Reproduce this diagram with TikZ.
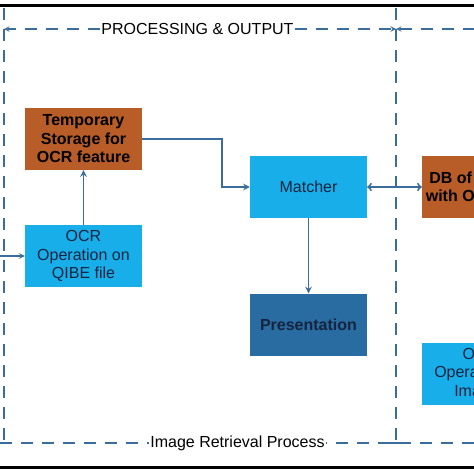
\documentclass[tikz,border=0pt]{standalone}
\usepackage{fontspec}
\setmainfont{Liberation Sans}
\usepackage{tikz}
\usetikzlibrary{arrows}
\usepackage{xcolor}
\definecolor{rust}{RGB}{184,92,40}
\definecolor{sky}{RGB}{24,174,234}
\definecolor{deepblue}{RGB}{40,108,162}
\definecolor{steel}{RGB}{58,108,156}
\definecolor{navy}{RGB}{22,36,62}

\tikzset{
  blockbox/.style={minimum width=117pt,minimum height=62pt,inner sep=0pt,
    align=center,font=\fontsize{16}{18.5}\selectfont},
  rustbox/.style={blockbox,fill=rust,text=black,font=\fontsize{16}{18.5}\selectfont\bfseries},
  skybox/.style={blockbox,fill=sky,text=navy},
  darkbox/.style={blockbox,fill=deepblue,text=navy,font=\fontsize{16}{18.5}\selectfont\bfseries},
  link/.style={draw=steel,line width=1.9pt},
  border/.style={draw=steel,line width=1.4pt,dash pattern=on 12pt off 9pt},
  caption/.style={font=\fontsize{16}{18}\selectfont,text=black,fill=white,inner xsep=1pt,inner ysep=0pt}
}

\begin{document}
\begin{tikzpicture}[x=1pt,y=-1pt,>=stealth]
        \useasboundingbox (0,0) rectangle (474,474);
        \clip (0,0) rectangle (474,474);
        % frame
        \draw[line width=3pt] (0,5) -- (474,5);
        \draw[line width=3pt] (0,467) -- (474,467);
        \draw[border] (4,8) -- (4,443);
        \draw[border] (396,8) -- (396,443);
        \draw[border] (0,443) -- (474,443);
        \draw[steel,line width=1.4pt] (0,443) -- (10,443) (390,443) -- (402,443);
        \node[caption] (retr) at (237.5,443) {Image Retrieval Process};
        % section header
        \node[caption,fill=none] (proc) at (197.5,29) {PROCESSING \& OUTPUT};
        \coordinate (lft) at (4,29);
        \coordinate (mid) at (396,29);
        \coordinate (rgt) at (474,29);
        \draw[border,->] (proc.west) -- (lft);
        \draw[border,->] (proc.east) -- (mid);
        \draw[border,<-] (mid) -- (rgt);
        % blocks
        \node[rustbox] (tmp) at (83.5,139) {Temporary\\Storage for\\OCR feature};
        \node[skybox] (ocr) at (83.5,256) {OCR\\Operation on\\QIBE file};
        \node[skybox] (match) at (308.5,187) {Matcher};
        \node[darkbox] (pres) at (308.5,324.5) {Presentation};
        \node[rustbox] (db) at (480.5,187) {DB of images\\with OCR data};
        \node[skybox] (ocrimg) at (480.5,374) {OCR\\Operation on\\Images};
        % links
        \coordinate (in) at (0,256);
        \draw[link,->,line width=1.4pt] (in) -- (ocr.west);
        \draw[link,->] (ocr) -- (tmp);
        \draw[link,->] (tmp.east) -| ([xshift=-28pt]match.west) -- (match.west);
        \draw[link,to-to] (match) -- (db);
        \draw[link,->] (match) -- (pres);
      \end{tikzpicture}
\end{document}
